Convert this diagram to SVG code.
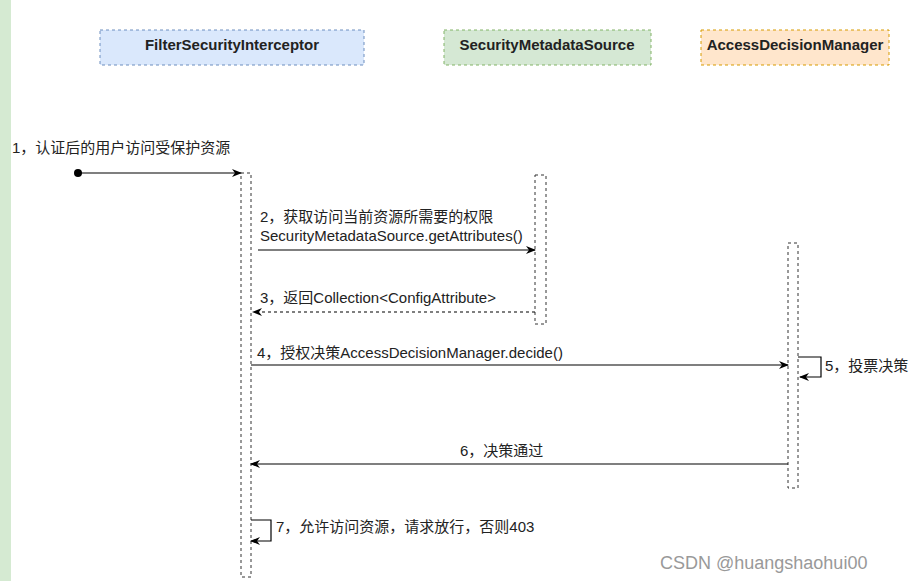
<svg xmlns="http://www.w3.org/2000/svg" width="922" height="581" viewBox="0 0 922 581">
<style>
.t{font-family:"Liberation Sans","Noto Sans CJK SC",sans-serif;font-size:15px;fill:#222}
.h{font-family:"Liberation Sans",sans-serif;font-size:15px;font-weight:bold;fill:#222;text-anchor:middle}
.box{stroke-dasharray:3 3;stroke-width:1}
.bar{fill:#fff;stroke:#333;stroke-dasharray:3 3}
.m{stroke:#000;fill:none;stroke-width:1.2}
</style>
<defs>
<marker id="a" markerWidth="10" markerHeight="10" refX="9" refY="5" orient="auto" markerUnits="userSpaceOnUse"><path d="M0,1 L10,5 L0,9 L3,5 z" fill="#000"/></marker>
</defs>
<rect width="922" height="581" fill="#fff"/>
<rect x="0" y="0" width="11" height="581" fill="#d5ead2"/>
<g id="fsi"><rect class="box" x="100" y="30" width="264" height="35" fill="#dae8fc" stroke="#6c8ebf"/><text class="h" x="232" y="50">FilterSecurityInterceptor</text></g>
<g id="sms"><rect class="box" x="444" y="30" width="207" height="35" fill="#d5e8d4" stroke="#82b366"/><text class="h" x="547" y="50">SecurityMetadataSource</text></g>
<g id="adm"><rect class="box" x="701" y="30" width="188" height="35" fill="#ffe6cc" stroke="#d79b00"/><text class="h" x="795" y="50">AccessDecisionManager</text></g>
<g id="bars">
<rect class="bar" x="241" y="173" width="10" height="404"/>
<rect class="bar" x="535" y="175" width="11" height="149"/>
<rect class="bar" x="788" y="243" width="10" height="245"/>
</g>
<g id="connectors">
<circle cx="78" cy="173" r="4" fill="#000"/>
<line class="m" x1="78" y1="173" x2="241" y2="173" marker-end="url(#a)"/>
<line class="m" x1="258" y1="250" x2="535" y2="250" marker-end="url(#a)"/>
<line class="m" x1="535" y1="312" x2="253" y2="312" stroke-dasharray="3 3" marker-end="url(#a)"/>
<line class="m" x1="251" y1="365" x2="788" y2="365" marker-end="url(#a)"/>
<path class="m" d="M798,357 H821 V377 H800" marker-end="url(#a)"/>
<line class="m" x1="788" y1="464" x2="251" y2="464" marker-end="url(#a)"/>
<path class="m" d="M251,520 H271 V541 H251" marker-end="url(#a)"/>
</g>
<g id="labels">
<text class="t" x="12" y="153">1，认证后的用户访问受保护资源</text>
<text class="t" x="260" y="222">2，获取访问当前资源所需要的权限</text>
<text class="t" x="260" y="241">SecurityMetadataSource.getAttributes()</text>
<text class="t" x="260" y="303">3，返回Collection&lt;ConfigAttribute&gt;</text>
<text class="t" x="257" y="358">4，授权决策AccessDecisionManager.decide()</text>
<text class="t" x="825" y="371">5，投票决策</text>
<text class="t" x="460" y="456">6，决策通过</text>
<text class="t" x="276" y="532">7，允许访问资源，请求放行，否则403</text>
<text x="660" y="569" font-family="Liberation Sans,sans-serif" font-size="18" fill="#999">CSDN @huangshaohui00</text>
</g>
</svg>
